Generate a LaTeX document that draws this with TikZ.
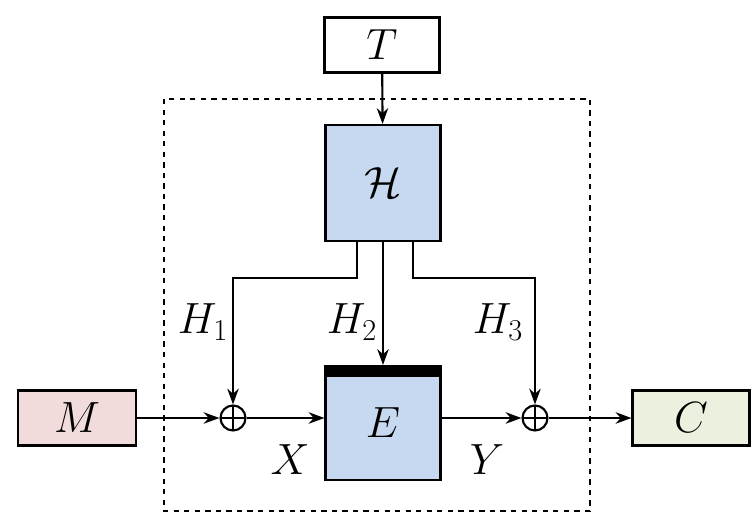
\documentclass[tikz,border=0pt]{standalone}
\usetikzlibrary{arrows.meta}
\definecolor{bblue}{RGB}{198,217,240}
\definecolor{bpink}{RGB}{242,220,219}
\definecolor{bgreen}{RGB}{235,241,222}
\begin{document}
\begin{tikzpicture}[x=0.02cm,y=-0.02cm,>={Stealth[length=9pt,width=6.5pt]},
  box/.style={draw,line width=1.2pt,minimum width=2.3cm,minimum height=1.1cm,inner sep=0pt,font=\fontsize{23}{27}\selectfont},
  sum/.style={draw,line width=1.2pt,circle,minimum size=0.5cm,inner sep=0pt,
    path picture={\draw[line width=1.2pt] (path picture bounding box.north) -- (path picture bounding box.south)
      (path picture bounding box.west) -- (path picture bounding box.east);}},
  lab/.style={font=\fontsize{23}{27}\selectfont},
  line/.style={line width=1.2pt,->}]
\useasboundingbox (0,0) rectangle (751,531);
\draw[line width=1.2pt,dashed] (164,99) rectangle (590,511);
\node[box] (t) at (382,45) {$T$};
\node[box,fill=bblue,minimum height=2.32cm] (h) at (383,183) {$\mathcal{H}$};
\node[box,fill=bblue,minimum height=2.28cm] (e) at (383,423) {$E$};
\fill (e.north west) rectangle ([yshift=-0.24cm]e.north east);
\node[box,fill=bpink,minimum width=2.36cm] (m) at (77,418) {$M$};
\node[box,fill=bgreen,minimum width=2.34cm] (c) at (691,418) {$C$};
\node[sum] (s1) at (233,418) {};
\node[sum] (s2) at (535,418) {};
\coordinate (h1) at (357,241);
\coordinate (h3) at (413,241);
\draw[line] (t) -- (h);
\draw[line] (h1) |- (233,278) -- (s1);
\draw[line] (h) -- (e);
\draw[line] (h3) |- (535,278) -- (s2);
\draw[line] (m) -- (s1);
\draw[line] (s1) -- (e.west |- s1);
\draw[line] (e.east |- s2) -- (s2);
\draw[line] (s2) -- (c);
\node[lab] (l1) at (203,322) {$H_1$};
\node[lab] (l2) at (352,322) {$H_2$};
\node[lab] (l3) at (498,322) {$H_3$};
\node[lab] (lx) at (290,460) {$X$};
\node[lab] (ly) at (487,460) {$Y$};
\end{tikzpicture}
\end{document}
